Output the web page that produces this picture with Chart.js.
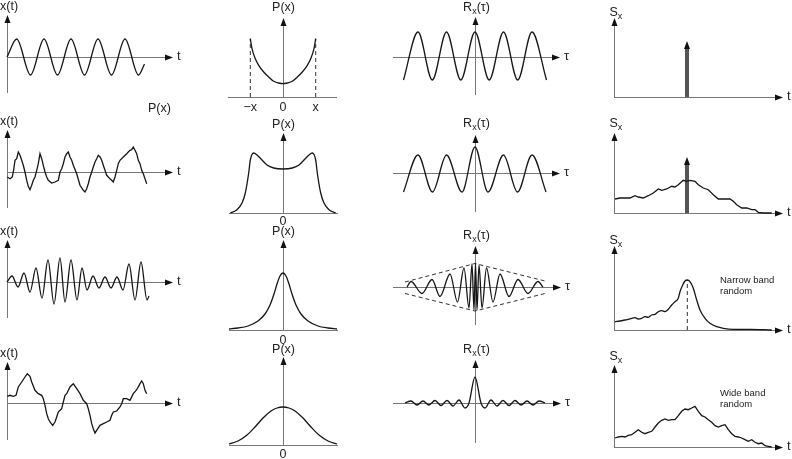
<!DOCTYPE html>
<html>
<head>
<meta charset="utf-8">
<script src="https://cdn.jsdelivr.net/npm/chart.js@4.4.1/dist/chart.umd.min.js"></script>
<style>
  html, body { margin: 0; background: #fff; }
  #wrap { position: relative; width: 792px; height: 459px; overflow: hidden; }
  #wrap canvas { position: absolute; left: 0; top: 0; }
</style>
</head>
<body>
<div id="wrap"></div>
<script>
// values: x = offset along the horizontal axis, y = height above it

// row 1: sine wave
const sineT = [0, 9.7, 23.5, 37, 50.5, 64, 77.5, 91, 104.5, 118, 131.5, 137.5];
const sineX = [0, 18, -18, 18, -18, 18, -18, 18, -18, 18, -18, -7];
const uX = [-32.7, -31, -27.7, -24.3, -19.3, -14.3, -9.3, -4.3, 0, 4.3, 9.3, 14.3, 19.3, 24.3, 27.7, 31, 32.7];
const uP = [58.3, 48.3, 38.3, 31.7, 25, 20, 15.7, 14, 13.3, 14, 15.7, 20, 25, 31.7, 38.3, 48.3, 58.3];
const uTicks = ['−x', '0', 'x'];
const uTickAt = [-32.7, 0, 32.7];
const cosTau = [-71.5, -57, -42.7, -28.5, -14.2, 0, 14.2, 28.5, 42.7, 57, 71.5];
const cosR = [-23, 25, -23, 25, -23, 25, -23, 25, -23, 25, -23];
const lineF = 73;
const lineH = 56;

// row 2: sine plus random
const sprT = [0.3, 3, 5.3, 6.3, 8, 9.7, 11.3, 13, 14.7, 16.3, 18, 19.7, 21.3, 23, 24.7, 26.3, 28, 29.7, 31.3, 33, 34.7, 36.3, 38, 39.7, 41.3, 44.7, 48, 51.3, 53, 54.7, 56.3, 58, 59.7, 61.3, 63, 64.7, 66.3, 69.7, 73, 76.3, 78, 79.7, 81.3, 83, 84.7, 86.3, 88, 89.7, 91.3, 93, 94.7, 96.3, 98, 99.7, 101.3, 103, 104.7, 106.3, 108, 109.7, 111.3, 113, 116.3, 119.7, 121.3, 123, 124.7, 126.3, 128, 129.7, 131.3, 133, 134.7, 136.3, 138, 139.7];
const sprX = [-5, -6.7, -5, 0, 11.7, 13.3, 20, 16.7, 11.7, 6.7, 0, -8.3, -14.3, -17.7, -13.3, -8.3, -5, 1.7, 8.3, 18.3, 13.3, 6.7, 0, -5, -8.3, -11, -10, -8.3, 0, 3.3, 8.3, 15, 18.3, 20, 15, 11.7, 6.7, -1.7, -13.3, -18.3, -20, -16.7, -11.7, -5, 0, 5, 10, 13.3, 16.7, 15, 11.7, 6.7, 1.7, -3.3, -5, -6.7, -8.3, -10, -5, 1.7, 8.3, 11.7, 15, 18.3, 20, 21.7, 22.3, 25, 21.7, 18.3, 11.7, 8.3, 1.7, -1.7, -6.7, -11.7];
const biX = [-52.7, -46, -41, -37.7, -34.3, -32.7, -29.3, -26, -21, -16, -9.3, 0, 9.3, 16, 21, 26, 29.3, 32.7, 34.3, 37.7, 41, 46, 52.7];
const biP = [0, 3.3, 10, 20, 40, 53, 60, 58, 53, 48, 45, 44, 45, 48, 53, 58, 60, 53, 40, 20, 10, 3.3, 0];
const rx2T = [-71.5, -57, -42.5, -28.5, -13, 0, 13, 28.5, 42.5, 57, 71];
const rx2R = [-19, 18, -19, 18, -19, 26, -19, 18, -19, 18, -19];
const s2F = [1, 6, 16, 21, 24.3, 29.3, 34.3, 39.3, 44.3, 47.7, 52.7, 57.7, 61, 64.3, 69.3, 72.7, 76, 81, 84.3, 89.3, 94.3, 99.3, 104.3, 109.3, 116, 119.3, 122.7, 127.7, 132.7, 137.7, 141, 144.3, 149.3, 157.7];
const s2S = [14, 15, 15, 17.3, 16, 15, 17.3, 20, 24, 22.7, 24, 26.7, 26, 28.3, 32.7, 31.7, 32.7, 31.7, 28.3, 25, 23.3, 18.3, 14, 14, 14, 11.7, 8.3, 5, 5, 3.3, 3.3, 0.7, 0, 0];

// row 3: narrow band random
const nbT = [0, 5, 11, 17, 23, 29, 35, 41, 47, 53, 58, 64, 70, 75, 80, 86, 92, 98, 104, 110, 116, 122, 128, 134, 140, 142];
const nbX = [0, 6, -5, 9, -10, 14, -16, 22, -22, 24, -20, 22, -18, 14, -8, 6, -6, 5, -6, 5, -8, 18, -18, 20, -18, -14];
const gnX = [-54, -45, -35, -25, -18, -13, -9, -6, -3, 0, 3, 6, 9, 13, 18, 25, 35, 45, 54];
const gnP = [1, 2, 4, 9, 16, 25, 36, 46, 54, 57, 54, 46, 36, 25, 16, 9, 4, 2, 1];
const chT = [-68, -64, -53, -43, -35, -25, -17.5, -11, -6, -3, -1, 0.5, 2, 4, 7, 11.5, 18, 25, 34, 43, 53, 63, 68];
const chR = [0, 5.5, -6.5, 7.5, -9.5, 13, -15, 19, -21, 23, -23, 23.5, -23, 22, -21, 19, -15, 13, -9.5, 7.5, -6.5, 5.5, 0];
const envT = [-70, 0, 70];
const envTop = [5, 23.5, 6];
const envBot = [-6.5, -24, -6.5];
const s3F = [1, 6, 11, 14.3, 17.7, 21, 24.3, 27.7, 31, 34.3, 37.7, 41, 44.3, 47.7, 51, 54.3, 57.7, 61, 64.3, 66, 68.7, 71, 73.3, 76, 79.3, 82.7, 86, 91, 96, 102.7, 109.3, 119.3, 136, 157.7];
const s3S = [8.3, 9, 10, 10.7, 11.7, 12.3, 11, 11.7, 13.3, 12.7, 15, 15.7, 18.3, 19.3, 18.3, 20.7, 25, 28.3, 31.7, 38.3, 45, 49, 50, 48.3, 41.7, 30, 20, 11.7, 6.7, 3.3, 1.7, 0.7, 0.7, 0];
const s3Peak = 73.3;

// row 4: wide band random
const wbT = [0.3, 3, 6.3, 9, 11.3, 14.7, 18, 20.3, 23, 24.7, 28, 31.3, 34.7, 36.3, 38, 39.7, 41.3, 43, 45.7, 48, 49.7, 51.3, 53, 54.7, 56.3, 58, 59.7, 63, 66.3, 69.7, 73, 76.3, 79.7, 81.3, 83, 84.7, 86.3, 88, 89.7, 93, 96.3, 99.7, 103, 104.7, 106.3, 109.7, 113, 114.7, 116.3, 119.7, 123, 126.3, 129.7, 133, 134.7, 136.3, 138, 139.7];
const wbX = [6.7, 7.7, 6.7, 7.7, 16, 21, 26, 29.3, 26.7, 21, 12.7, 9.3, 7.7, 4.3, -2.3, -10.7, -15.7, -19, -22.3, -19, -14, -9, -7.3, -5.7, 1, 7.7, 9.3, 16, 19.3, 14.3, 9.3, 2.7, -0.7, -5.7, -12.3, -20.7, -25.7, -30, -27.3, -22.3, -20.7, -19, -17.3, -12.3, -9, -8, -4, -0.7, 4.3, 4.3, 2.7, 9.3, 13.3, 19.3, 22, 19.3, 12.7, 9.3];
const gwX = [-54, -45, -36, -28, -20, -12, -6, 0, 6, 12, 20, 28, 36, 45, 54];
const gwP = [1, 4, 10, 18, 27, 34, 37, 38, 37, 34, 27, 18, 10, 4, 1];
const scT = [-70, -64, -58, -52, -46, -40, -34, -28, -22, -16, -10, -6, 0, 6, 10, 16, 22, 28, 34, 40, 46, 52, 58, 64, 70];
const scR = [0, 2, -2, 2, -2, 2.5, -2.5, 2.5, -3, 3, -5, 0, 26, 0, -5, 3, -3, 2.5, -2.5, 2.5, -2, 2, -2, 2, 0];
const s4F = [1, 4.3, 7.7, 11, 14.3, 17.7, 21, 24.3, 27.7, 31, 34.3, 37.7, 41, 44.3, 47.7, 51, 54.3, 57.7, 61, 64.3, 67.7, 71, 74.3, 77.7, 81, 84.3, 87.7, 91, 94.3, 97.7, 101, 104.3, 107.7, 111, 114.3, 117.7, 121, 124.3, 127.7, 131, 134.3, 137.7, 141, 144.3, 147.7, 151, 154.3, 157.7];
const s4S = [9, 10, 10.7, 10, 11.7, 12.3, 14.7, 17.3, 14.7, 13.3, 14.7, 15.7, 20, 24, 26.7, 28, 26.7, 27.3, 27.3, 31.3, 35.7, 38, 37.3, 39, 40.7, 35.7, 31.3, 30, 27.3, 24.7, 21.3, 20, 21.3, 22.3, 17.3, 13.3, 10.7, 10, 9, 7.3, 5.7, 7.3, 4.7, 3.3, 4, 1.3, 0.7, 0];

const W = 792, H = 459;
const INK = '#161616', AXIS = '#777', TEXT = '#222';
const FONT = '"Liberation Sans", Arial, sans-serif';

function pts(xs, ys) { return xs.map((v, i) => ({ x: v, y: ys[i] })); }
function curve(xs, ys, smooth) {
  return {
    data: pts(xs, ys), borderColor: INK, borderWidth: 1.3, pointRadius: 0, fill: false, clip: false,
    tension: smooth ? 0.4 : 0, cubicInterpolationMode: smooth ? 'monotone' : 'default'
  };
}
function dashed(xs, ys) {
  return { data: pts(xs, ys), borderColor: '#333', borderWidth: 1, borderDash: [4, 3], pointRadius: 0, fill: false, clip: false, tension: 0 };
}
// the hatched spike: grey column with a chain of light dots inside
function spike(x, h) {
  return [
    { data: pts([x, x], [0, h - 5]), borderColor: '#555', borderWidth: 4, pointRadius: 0, clip: false },
    { data: pts([x, x], [0, h - 5]), borderColor: '#eee', borderWidth: 2, borderDash: [1.5, 1.5], pointRadius: 0, clip: false }
  ];
}

function drawSegs(ctx, segs, x, y, align, size) {
  let w = 0;
  const parts = segs.map(([s, sub]) => {
    ctx.font = (sub ? size * 0.72 : size) + 'px ' + FONT;
    const m = ctx.measureText(s).width;
    w += m;
    return { s, sub, m };
  });
  let cx = align === 'center' ? x - w / 2 : x;
  ctx.textAlign = 'left';
  ctx.textBaseline = 'middle';
  parts.forEach(p => {
    ctx.font = (p.sub ? size * 0.72 : size) + 'px ' + FONT;
    ctx.fillText(p.s, cx, p.sub ? y + size * 0.32 : y);
    cx += p.m;
  });
}

function arrowHead(ctx, x, y, dir) {
  ctx.beginPath();
  if (dir === 'up') { ctx.moveTo(x, y); ctx.lineTo(x - 3, y + 8); ctx.lineTo(x + 3, y + 8); }
  else { ctx.moveTo(x, y); ctx.lineTo(x - 8, y - 3); ctx.lineTo(x - 8, y + 3); }
  ctx.closePath();
  ctx.fill();
}

const decor = {
  id: 'decor',
  beforeDatasetsDraw(chart, args, o) {
    const { ctx } = chart;
    const xs = chart.scales.x, ys = chart.scales.y;
    const ox = Math.round(xs.getPixelForValue(0)) + 0.5;
    const oy = Math.round(ys.getPixelForValue(0)) + 0.5;
    ctx.save();
    ctx.strokeStyle = AXIS;
    ctx.lineWidth = 1;
    ctx.beginPath();
    ctx.moveTo(xs.getPixelForValue(xs.min), oy);
    ctx.lineTo(xs.getPixelForValue(xs.max) - (o.hArrow ? 4 : 0), oy);
    ctx.moveTo(ox, ys.getPixelForValue(ys.min));
    ctx.lineTo(ox, ys.getPixelForValue(ys.max) + 4);
    ctx.stroke();
    ctx.restore();
  },
  afterDatasetsDraw(chart, args, o) {
    const { ctx } = chart;
    const xs = chart.scales.x, ys = chart.scales.y;
    const ox = Math.round(xs.getPixelForValue(0)) + 0.5;
    const oy = Math.round(ys.getPixelForValue(0)) + 0.5;
    const right = xs.getPixelForValue(xs.max), top = ys.getPixelForValue(ys.max);
    ctx.save();
    ctx.fillStyle = '#111';
    arrowHead(ctx, ox, top, 'up');
    if (o.hArrow) arrowHead(ctx, right, oy, 'right');
    (o.tips || []).forEach(([tx, ty]) => arrowHead(ctx, xs.getPixelForValue(tx), ys.getPixelForValue(ty), 'up'));
    ctx.fillStyle = TEXT;
    const v = o.vLabel;
    drawSegs(ctx, v.segs, ox + v.dx, top - v.dy, v.align, 12.5);
    if (o.hLabel) drawSegs(ctx, [[o.hLabel]], right + 4, oy - 1, 'left', 13);
    (o.ticks || []).forEach(([tv, tt]) => drawSegs(ctx, [[tt]], xs.getPixelForValue(tv), oy + (o.tickGap || 10), 'center', 12.5));
    (o.notes || []).forEach(n => {
      n.lines.forEach((ln, i) => drawSegs(ctx, [[ln]], xs.getPixelForValue(n.x), ys.getPixelForValue(n.y) + i * n.gap, 'left', n.size));
    });
    ctx.restore();
  }
};

const XT = { segs: [['x(t)']], dx: -7.5, dy: 8, align: 'left' };
const PX = (dy) => ({ segs: [['P(x)']], dx: 0, dy: dy, align: 'center' });
const RX = (dy) => ({ segs: [['R'], ['x', 1], ['(τ)']], dx: 1, dy: dy, align: 'center' });
const SX = (dy) => ({ segs: [['S'], ['x', 1]], dx: -5, dy: dy, align: 'left' });

const panels = [
  // row 1
  { origin: [7, 57], xr: [0, 166], yr: [-36, 42], datasets: [curve(sineT, sineX, true)],
    decor: { hArrow: true, vLabel: XT, hLabel: 't',
      notes: [{ x: 141, y: -52, lines: ['P(x)'], size: 12.5, gap: 0 }] } },
  { origin: [283, 97], xr: [-55, 54], yr: [0, 79],
    datasets: [curve(uX, uP, true), dashed([uTickAt[0], uTickAt[0]], [0, uP[0]]), dashed([uTickAt[2], uTickAt[2]], [0, uP[uP.length - 1]])],
    decor: { hArrow: false, vLabel: PX(10), ticks: uTickAt.map((v, i) => [v, uTicks[i]]) } },
  { origin: [475, 57], xr: [-82, 85], yr: [-38, 40], datasets: [curve(cosTau, cosR, true)],
    decor: { hArrow: true, vLabel: RX(9), hLabel: 'τ' } },
  { origin: [614, 97], xr: [0, 169], yr: [0, 79], datasets: spike(lineF, lineH),
    decor: { hArrow: true, vLabel: SX(5), hLabel: 't', tips: [[lineF, lineH]] } },
  // row 2
  { origin: [7, 172], xr: [0, 166], yr: [-36, 42], datasets: [curve(sprT, sprX, false)],
    decor: { hArrow: true, vLabel: XT, hLabel: 't' } },
  { origin: [283, 213], xr: [-54, 55], yr: [0, 80], datasets: [curve(biX, biP, true)],
    decor: { hArrow: false, vLabel: PX(8), ticks: [[0, '0']], tickGap: 8 } },
  { origin: [475, 173], xr: [-82, 85], yr: [-39, 38], datasets: [curve(rx2T, rx2R, true)],
    decor: { hArrow: true, vLabel: RX(11), hLabel: 'τ' } },
  { origin: [614, 213], xr: [0, 169], yr: [0, 80], datasets: [curve(s2F, s2S, false)].concat(spike(lineF, lineH)),
    decor: { hArrow: true, vLabel: SX(9), hLabel: 't', tips: [[lineF, lineH]] } },
  // row 3
  { origin: [7, 282], xr: [0, 166], yr: [-36, 42], datasets: [curve(nbT, nbX, true)],
    decor: { hArrow: true, vLabel: XT, hLabel: 't' } },
  { origin: [283, 330], xr: [-54, 55], yr: [0, 90], datasets: [curve(gnX, gnP, true)],
    decor: { hArrow: false, vLabel: PX(8), ticks: [[0, '0']] } },
  { origin: [475, 287], xr: [-82, 86], yr: [-38, 41],
    datasets: [curve(chT, chR, true), dashed(envT, envTop), dashed(envT, envBot)],
    decor: { hArrow: true, vLabel: RX(10), hLabel: 'τ' } },
  { origin: [614, 330], xr: [0, 169], yr: [0, 84],
    datasets: [curve(s3F, s3S, true), dashed([s3Peak, s3Peak], [0, 50])],
    decor: { hArrow: true, vLabel: SX(5), hLabel: 't',
      notes: [{ x: 106, y: 50, lines: ['Narrow band', 'random'], size: 9.5, gap: 11 }] } },
  // row 4
  { origin: [7, 403], xr: [0, 166], yr: [-37, 41], datasets: [curve(wbT, wbX, false)],
    decor: { hArrow: true, vLabel: XT, hLabel: 't' } },
  { origin: [283, 445], xr: [-54, 55], yr: [0, 88], datasets: [curve(gwX, gwP, true)],
    decor: { hArrow: false, vLabel: PX(7), ticks: [[0, '0']], tickGap: 9 } },
  { origin: [475, 403], xr: [-82, 86], yr: [-40, 43], datasets: [curve(scT, scR, true)],
    decor: { hArrow: true, vLabel: RX(10), hLabel: 'τ' } },
  { origin: [614, 447], xr: [0, 169], yr: [0, 82], datasets: [curve(s4F, s4S, false)],
    decor: { hArrow: true, vLabel: SX(8), hLabel: 't',
      notes: [{ x: 106, y: 54, lines: ['Wide band', 'random'], size: 9.5, gap: 11 }] } }
];

const wrap = document.getElementById('wrap');
panels.forEach(p => {
  const c = document.createElement('canvas');
  c.width = W;
  c.height = H;
  wrap.appendChild(c);
  const [ox, oy] = p.origin;
  new Chart(c, {
    type: 'line',
    data: { datasets: p.datasets },
    options: {
      responsive: false,
      animation: false,
      devicePixelRatio: 1,
      events: [],
      layout: { padding: { left: ox + p.xr[0], right: W - ox - p.xr[1], top: oy - p.yr[1], bottom: H - oy + p.yr[0] } },
      scales: {
        x: { type: 'linear', min: p.xr[0], max: p.xr[1], display: false },
        y: { type: 'linear', min: p.yr[0], max: p.yr[1], display: false }
      },
      plugins: { legend: { display: false }, tooltip: { enabled: false }, decor: p.decor }
    },
    plugins: [decor]
  });
});
</script>
</body>
</html>
